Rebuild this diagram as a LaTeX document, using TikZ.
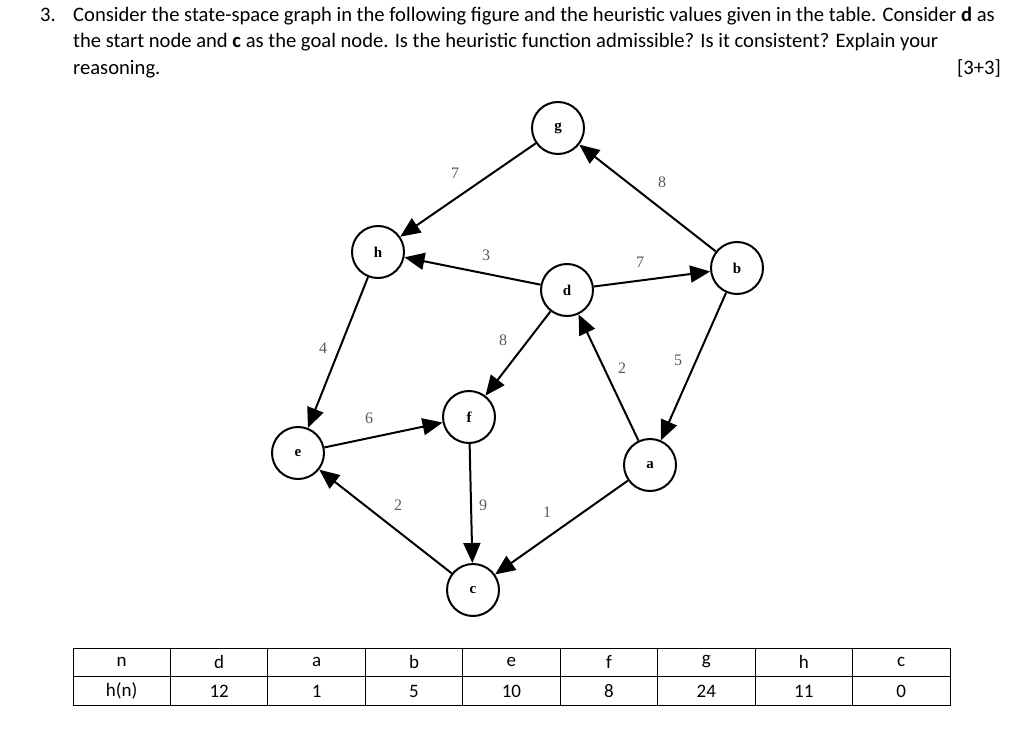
\documentclass[tikz,border=0pt]{standalone}
\usepackage{fontspec}
\setmainfont{Carlito}
\newfontfamily\tms{Liberation Serif}
\usetikzlibrary{arrows.meta}
\begin{document}
\begin{tikzpicture}[x=1pt,y=-1pt,
  st/.style={circle,draw,line width=2pt,minimum size=52pt,inner sep=0pt,font=\tms\bfseries\fontsize{15}{15}\selectfont},
  ed/.style={line width=2pt,-{Triangle[length=20pt,width=17pt]}},
  wl/.style={font=\tms\fontsize{16}{16}\selectfont,text=black!65},
  tx/.style={anchor=base west,font=\fontsize{20.6}{20.6}\selectfont,inner sep=0pt},
  cell/.style={font=\fontsize{19}{19}\selectfont}]
\useasboundingbox (0,0) rectangle (1027,743);
\node[tx] (q0) at (40,22) {3.};
\node[tx] (q1) at (73,22) {Consider the state-space graph in the following figure and the heuristic values given in the table. Consider \textbf{d} as};
\node[tx] (q2) at (73,48) {the start node and \textbf{c} as the goal node. Is the heuristic function admissible? Is it consistent? Explain your};
\node[tx] (q3) at (73,75) {reasoning.};
\node[tx,anchor=base east] (q4) at (1001,75) {[3+3]};
\node[st] (g) at (558,128) {g};
\node[st] (h) at (378,252) {h};
\node[st] (d) at (567,290) {d};
\node[st] (b) at (737,268) {b};
\node[st] (f) at (469,417) {f};
\node[st] (e) at (298,453) {e};
\node[st] (a) at (650,465) {a};
\node[st] (c) at (473,590) {c};
\draw[ed] (g) -- (h);
\draw[ed] (b) -- (g);
\draw[ed] (d) -- (h);
\draw[ed] (d) -- (b);
\draw[ed] (h) -- (e);
\draw[ed] (d) -- (f);
\draw[ed] (a) -- (d);
\draw[ed] (b) -- (a);
\draw[ed] (e) -- (f);
\draw[ed] (c) -- (e);
\draw[ed] (f) -- (c);
\draw[ed] (a) -- (c);
\node[wl] (l1) at (455,173) {7};
\node[wl] (l2) at (662,182) {8};
\node[wl] (l3) at (486,255) {3};
\node[wl] (l4) at (640,262) {7};
\node[wl] (l5) at (323,348) {4};
\node[wl] (l6) at (503,340) {8};
\node[wl] (l7) at (622,368) {2};
\node[wl] (l8) at (678,360) {5};
\node[wl] (l9) at (369,418) {6};
\node[wl] (l10) at (398,505) {2};
\node[wl] (l11) at (483,505) {9};
\node[wl] (l12) at (547,512) {1};
\draw[line width=1pt] (73,648) rectangle (950,705);
\draw[line width=1pt] (73,676) -- (950,676);
\foreach \i in {1,...,8} \draw[line width=1pt] (73+\i*97.44,648) -- (73+\i*97.44,705);
\foreach \t [count=\i from 0] in {n,d,a,b,e,f,g,h,c}
  \node[cell] (t\i) at (73+\i*97.44+48.7,662) {\t};
\foreach \t [count=\i from 0] in {h(n),12,1,5,10,8,24,11,0}
  \node[cell] (v\i) at (73+\i*97.44+48.7,691) {\t};
\end{tikzpicture}
\end{document}
